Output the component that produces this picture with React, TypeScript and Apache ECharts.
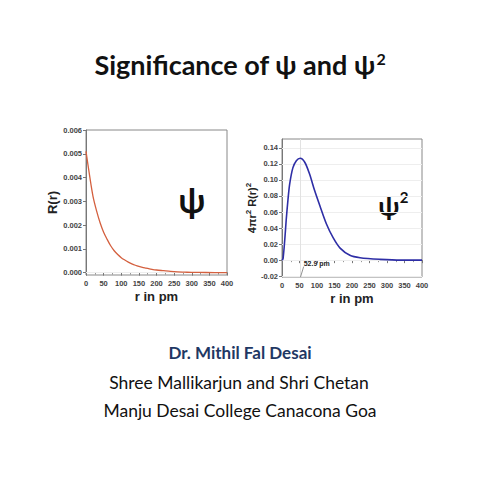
import React, { useEffect, useRef } from "react";
import * as echarts from "echarts";

const rLeft = [0, 10, 20, 30, 40, 50, 60, 70, 80, 90, 100, 110, 120, 130, 140, 150, 160, 170, 180, 190, 200, 220, 240, 260, 280, 300, 340, 400];
const psiValues = [0.0051, 0.0041, 0.0032, 0.0026, 0.0021, 0.0017, 0.0014, 0.00113, 0.00092, 0.00076, 0.00063, 0.00053, 0.00044, 0.00037, 0.00031, 0.00026, 0.00022, 0.00019, 0.00016, 0.00013, 0.00011, 0.00008, 0.00005, 0.00003, 0.00002, 0.00001, 0.000005, 0];

const rRight = [0, 3, 8, 12, 17, 22, 31, 41, 52, 65, 79, 93, 108, 127, 146, 166, 194, 223, 280, 340, 400];
const psi2Values = [0, 0.002, 0.026, 0.05, 0.075, 0.095, 0.115, 0.124, 0.127, 0.122, 0.107, 0.087, 0.068, 0.045, 0.028, 0.015, 0.006, 0.003, 0.001, 0, 0];

const leftTicks = [0, 0.001, 0.002, 0.003, 0.004, 0.005, 0.006];
const rightTicks = [-0.02, 0, 0.02, 0.04, 0.06, 0.08, 0.1, 0.12, 0.14];
const peakR = 52.9;

const FONT = "'Liberation Sans', Arial, sans-serif";
const TFONT = "Lato, 'Open Sans', sans-serif";

export default function App() {
  const ref = useRef<HTMLDivElement>(null);
  useEffect(() => {
    if (!ref.current) return;
    const chart = echarts.init(ref.current, undefined, { renderer: "svg", width: 480, height: 480 });
    const tickLabel = { fontSize: 7.5, color: "#444", fontFamily: FONT, fontWeight: "bold" as const };
    const xAxisCommon = (gridIndex: number) => ({
      type: "value" as const,
      gridIndex,
      min: 0,
      max: 400,
      interval: 50,
      name: "r in pm",
      nameLocation: "middle" as const,
      nameGap: 15,
      nameTextStyle: { fontSize: 13, fontWeight: "bold" as const, color: "#222", fontFamily: FONT },
      axisLine: { show: true, lineStyle: { color: "#777", width: 1 } },
      axisTick: { show: true, inside: false, length: 3, lineStyle: { color: "#777" } },
      minorTick: { show: true, splitNumber: 2, length: 2, lineStyle: { color: "#999" } },
      axisLabel: { ...tickLabel, margin: 4 },
      splitLine: { show: false },
    });
    const gridLines = (ticks: number[]) =>
      ticks.map((v) => ({ yAxis: v, lineStyle: { color: "#eeeeee", width: 1, type: "solid" as const } }));

    chart.setOption({
      animation: false,
      backgroundColor: "#ffffff",
      grid: [
        { left: 86, top: 130, width: 141, height: 145, show: true, borderColor: "#888", borderWidth: 1, backgroundColor: "transparent" },
        { left: 282, top: 139, width: 140, height: 138, show: true, borderColor: "#888", borderWidth: 1, backgroundColor: "transparent" },
      ],
      xAxis: [xAxisCommon(0), xAxisCommon(1)],
      yAxis: [
        {
          type: "value",
          gridIndex: 0,
          min: -0.0001,
          max: 0.006,
          name: "R(r)",
          nameLocation: "middle",
          nameGap: 21,
          nameTextStyle: { fontSize: 13, fontWeight: "bold", color: "#222", fontFamily: FONT },
          axisLine: { show: true, lineStyle: { color: "#777" } },
          axisTick: { show: true, length: 3, customValues: leftTicks, lineStyle: { color: "#777" } },
          axisLabel: { ...tickLabel, margin: 4, customValues: leftTicks, formatter: (v: number) => v.toFixed(3) },
          splitLine: { show: false },
        },
        {
          type: "value",
          gridIndex: 1,
          min: -0.021,
          max: 0.151,
          name: "{a|4πr}{s|2}{a| R(r)}{s|2}",
          nameLocation: "middle",
          nameGap: 17,
          nameTextStyle: {
            rich: {
              a: { fontSize: 11, fontWeight: "bold", color: "#222", fontFamily: FONT },
              s: { fontSize: 8, fontWeight: "bold", color: "#222", fontFamily: FONT, verticalAlign: "top", padding: [0, 0, 6, 0] },
            },
          },
          axisLine: { show: true, lineStyle: { color: "#777" } },
          axisTick: { show: true, length: 3, customValues: rightTicks, lineStyle: { color: "#777" } },
          axisLabel: { ...tickLabel, margin: 4, customValues: rightTicks, formatter: (v: number) => v.toFixed(2) },
          splitLine: { show: false },
        },
      ],
      series: [
        {
          type: "line",
          xAxisIndex: 0,
          yAxisIndex: 0,
          z: 1,
          data: [],
          markLine: { silent: true, z: 1, symbol: ["none", "none"], label: { show: false }, data: gridLines(leftTicks) },
        },
        {
          type: "line",
          xAxisIndex: 1,
          yAxisIndex: 1,
          z: 1,
          data: [],
          markLine: {
            silent: true,
            z: 1,
            symbol: ["none", "none"],
            label: { show: false },
            data: [
              ...gridLines(rightTicks),
              { xAxis: peakR, lineStyle: { color: "#e2e2e2", width: 1, type: "solid" } },
              [
                { coord: [peakR, -0.021], lineStyle: { color: "#777", width: 0.8, type: "solid" } },
                { coord: [62, -0.008] },
              ],
            ],
          },
          markPoint: {
            silent: true,
            symbol: "circle",
            symbolSize: 0,
            data: [
              {
                coord: [62, -0.004],
                label: {
                  show: true,
                  position: "right",
                  distance: 0,
                  formatter: "52.9 pm",
                  fontSize: 7,
                  fontWeight: "bold",
                  color: "#222",
                  fontFamily: FONT,
                },
              },
            ],
          },
        },
        {
          type: "line",
          xAxisIndex: 0,
          yAxisIndex: 0,
          z: 3,
          data: rLeft.map((r, i) => [r, psiValues[i]]),
          smooth: 0.3,
          showSymbol: false,
          lineStyle: { color: "#d4603f", width: 1.3 },
        },
        {
          type: "line",
          xAxisIndex: 1,
          yAxisIndex: 1,
          z: 3,
          data: rRight.map((r, i) => [r, psi2Values[i]]),
          smooth: 0.3,
          showSymbol: false,
          lineStyle: { color: "#2e2ea6", width: 1.6 },
        },
      ],
      graphic: [
        {
          type: "text",
          x: 240,
          y: 64,
          style: {
            text: "{t|Significance of ψ and ψ}{s|2}",
            align: "center",
            verticalAlign: "middle",
            rich: {
              t: { fontSize: 27, fontWeight: "bold", fill: "#111", fontFamily: TFONT },
              s: { fontSize: 16, fontWeight: "bold", fill: "#111", fontFamily: TFONT, verticalAlign: "top", padding: [0, 0, 12, 1] },
            },
          },
        },
        {
          type: "text",
          x: 192,
          y: 199,
          style: { text: "ψ", fontSize: 34, fontWeight: "bold", fill: "#111", fontFamily: TFONT, align: "center", verticalAlign: "middle" },
        },
        {
          type: "text",
          x: 389,
          y: 205,
          style: { text: "ψ", fontSize: 27, fontWeight: "bold", fill: "#111", fontFamily: TFONT, align: "center", verticalAlign: "middle" },
        },
        {
          type: "text",
          x: 404,
          y: 197,
          style: { text: "2", fontSize: 15, fontWeight: "bold", fill: "#111", fontFamily: TFONT, align: "center", verticalAlign: "middle" },
        },
        {
          type: "text",
          x: 240,
          y: 352,
          style: { text: "Dr. Mithil Fal Desai", fontSize: 17, fontWeight: "bold", fill: "#1f3864", fontFamily: TFONT, align: "center", verticalAlign: "middle" },
        },
        {
          type: "text",
          x: 239,
          y: 382,
          style: { text: "Shree Mallikarjun and Shri Chetan", fontSize: 17.5, fill: "#111", fontFamily: TFONT, align: "center", verticalAlign: "middle" },
        },
        {
          type: "text",
          x: 240,
          y: 410,
          style: { text: "Manju Desai College Canacona Goa", fontSize: 17.5, fill: "#111", fontFamily: TFONT, align: "center", verticalAlign: "middle" },
        },
      ],
    });
    return () => chart.dispose();
  }, []);
  return <div ref={ref} style={{ position: "fixed", left: 0, top: 0, width: 480, height: 480, background: "#fff" }} />;
}
